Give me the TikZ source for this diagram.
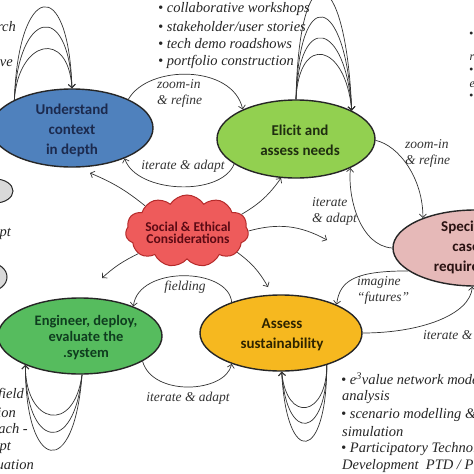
\documentclass[tikz,border=0pt]{standalone}
\usepackage{fontspec}
\setmainfont{Liberation Serif}
\newfontfamily\boldsans{Carlito}
\usetikzlibrary{shapes.geometric,shapes.symbols,arrows.meta}
\definecolor{cblue}{HTML}{4F81BD}
\definecolor{cgreen}{HTML}{92D050}
\definecolor{cpink}{HTML}{E6B9B8}
\definecolor{cred}{HTML}{EE5B5B}
\definecolor{credge}{HTML}{B52A2A}
\definecolor{ceng}{HTML}{56BC5E}
\definecolor{camber}{HTML}{F6B81F}
\definecolor{cgray}{HTML}{D9D9D9}
\definecolor{tblue}{HTML}{1C2A4E}
\definecolor{tgreen}{HTML}{1F2E10}
\definecolor{teng}{HTML}{0F3D1F}
\definecolor{tamber}{HTML}{2E2400}
\definecolor{tred}{HTML}{5C0A14}
\definecolor{tpink}{HTML}{2A1212}
\definecolor{ink}{HTML}{333333}
\begin{document}
\begin{tikzpicture}[x=1pt,y=-1pt,
  ell/.style={ellipse, draw=black!85, line width=1.4pt, inner sep=0pt},
  title/.style={font=\boldsans\bfseries\fontsize{15}{20}\selectfont, align=center, inner sep=0pt},
  conn/.style={draw=ink, line width=0.7pt, -{Straight Barb[length=3.5pt,width=7pt]}},
  lbl/.style={font=\itshape\fontsize{13.5}{16}\selectfont, text=ink, inner sep=0pt, align=left},
  bul/.style={font=\itshape\fontsize{14.5}{17}\selectfont, text=black!85, inner sep=0pt},
  frag/.style={font=\itshape\fontsize{12}{12}\selectfont, text=black!85, inner sep=0pt},
]
\useasboundingbox (0,0) rectangle (474,474);
\clip (0,0) rectangle (474,474);
\fill[white] (0,0) rectangle (474,474);

% partial shapes at the left edge
\node[ell, fill=cgray, line width=1pt, minimum width=36pt, minimum height=24pt] (gray1) at (-5,191) {};
\node[ell, fill=cgray, line width=1pt, minimum width=34pt, minimum height=28pt] (gray2) at (-10,277) {};

% main ellipses
\node[ell, fill=cblue, minimum width=162pt, minimum height=78pt] (blue) at (72,128) {};
\node[title, text=tblue] (blueT) at (72,130) {Understand\\context\\in depth};

\node[ell, fill=cgreen, minimum width=158pt, minimum height=78pt] (green) at (296,139) {};
\node[title, text=tgreen] (greenT) at (300,140) {Elicit and\\assess needs};

\node[ell, fill=cpink, minimum width=164pt, minimum height=76pt] (pink) at (475,248) {};
\node[title, text=tpink] (pinkT) at (476,247) {Specify use\\cases \&\\requirements};

\node[ell, fill=ceng, minimum width=164pt, minimum height=76pt] (eng) at (80,336) {};
\node[title, text=teng, font=\boldsans\bfseries\fontsize{14.5}{16}\selectfont] (engT) at (86,338) {Engineer, deploy,\\evaluate the\\.system};

\node[ell, fill=camber, minimum width=162pt, minimum height=76pt] (assess) at (281,333) {};
\node[title, text=tamber] (assessT) at (282,335) {Assess\\sustainability};

% cloud
\node[cloud, cloud puffs=11, cloud puff arc=115, cloud ignores aspect, draw=credge, fill=cred, line width=1pt,
      minimum width=123pt, minimum height=72pt, inner sep=0pt] (cloud) at (187,231) {};
\node[font=\boldsans\bfseries\fontsize{13.5}{12.5}\selectfont, text=tred, align=center, inner sep=0pt] (cloudT) at (188,233) {Social \& Ethical\\Considerations};

% self loops
\foreach \h in {116,89,60}
  \draw[conn] (blue.154) .. controls +(4,-\h) and +(-4,-\h) .. (blue.90);
\foreach \h in {150,117,89,67}
  \draw[conn] (green.90) .. controls +(3,-\h) and +(-6,-\h) .. (green.27);
\foreach \h in {60,83,107}
  \draw[conn] (eng.-87) .. controls +(-8,\h) and +(0,\h) .. (eng.208);
\foreach \h in {52,73,97}
  \draw[conn] (assess.-35) .. controls +(0,\h) and +(5,\h) .. (assess.-89);

% transitions
\draw[conn] (blue.27) .. controls +(20,-35) and +(-10,-45) .. (green.151);
\draw[conn] (green.202) .. controls +(-13,33) and +(12,35) .. (blue.-30);
\draw[conn] (green.-1) .. controls +(23,5) and +(0,-40) .. (pink.150);
\draw[conn] (pink.180) .. controls +(-32,-2) and +(-3,30) .. (green.-28);
\draw[conn] (pink.199) .. controls +(-52,0) and +(3,-25) .. (assess.27);
\draw[conn] (assess.0) .. controls +(58,0) and +(-2,28) .. (pink.266);
\draw[conn] (assess.148) .. controls +(-3,-35) and +(5,-41) .. (eng.29);
\draw[conn] (eng.-22) .. controls +(10,36) and +(-6,29) .. (assess.212);

% cloud arrows
\coordinate (tipB) at (90,173);
\coordinate (tipR) at (327,240);
\coordinate (tipE) at (102,278);
\coordinate (tipA) at (268,287);
\draw[conn] (cloud.149) to[bend right=8] (tipB);
\draw[conn] (cloud.17) to[bend right=12] (green.249);
\draw[conn] (cloud.0) to[bend left=22] (tipR);
\draw[conn] (cloud.205) to[bend right=8] (tipE);
\draw[conn] (cloud.-23) to[bend left=12] (tipA);

% transition labels
\node[lbl, anchor=west] (l1) at (157,93) {zoom-in\\\& refine};
\node[lbl] (l2) at (183,166) {iterate \& adapt};
\node[lbl, anchor=west] (l3) at (405,153) {zoom-in\\\& refine};
\node[lbl, anchor=west] (l4) at (312,211) {iterate\\\& adapt};
\node[lbl, anchor=west] (l5) at (357,290) {imagine\\``futures''};
\node[lbl] (l6) at (185,287) {fielding};
\node[lbl] (l7) at (188,398) {iterate \& adapt};
\node[lbl, anchor=west] (l8) at (423,336) {iterate \& adapt};

% method bullets (top)
\node[bul, anchor=west] (b1) at (158,9) {\textbullet\ collaborative workshops};
\node[bul, anchor=west] (b2) at (158,27) {\textbullet\ stakeholder/user stories};
\node[bul, anchor=west] (b3) at (158,44) {\textbullet\ tech demo roadshows};
\node[bul, anchor=west] (b4) at (158,62) {\textbullet\ portfolio construction};

% method bullets (bottom right)
\node[bul, anchor=west] (c1) at (341,380) {\textbullet\ e\textsuperscript{3}value network modelling \&};
\node[bul, anchor=west] (c2) at (342,397) {analysis};
\node[bul, anchor=west] (c3) at (341,415) {\textbullet\ scenario modelling \&};
\node[bul, anchor=west] (c4) at (342,432) {simulation};
\node[bul, anchor=west] (c5) at (341,449) {\textbullet\ Participatory Technology};
\node[bul, anchor=west] (c6) at (342,466) {Development\ \ PTD / PTA};

% fragments cut by the edges
\node[bul, anchor=east] (f1) at (16,27) {research};
\node[bul, anchor=east] (f2) at (13,62) {immersive};
\node[bul, anchor=east] (f3) at (11,233) {\& adapt};
\node[bul, anchor=east] (f4) at (24,395) {in-field};
\node[bul, anchor=east] (f5) at (16,413) {immersion};
\node[bul, anchor=east] (f6) at (28,430) {approach -};
\node[bul, anchor=east] (f7) at (11,448) {concept};
\node[bul, anchor=east] (f8) at (34,465) {evaluation};
\node[frag, anchor=west] (g1) at (469,35) {\textbullet};
\node[frag, anchor=west] (g2) at (469.5,56) {research};
\node[frag, anchor=west] (g3) at (469,71) {\textbullet};
\node[frag, anchor=west] (g4) at (469.5,83) {evaluation};
\node[frag, anchor=west] (g5) at (469,97) {\textbullet};
\end{tikzpicture}
\end{document}
